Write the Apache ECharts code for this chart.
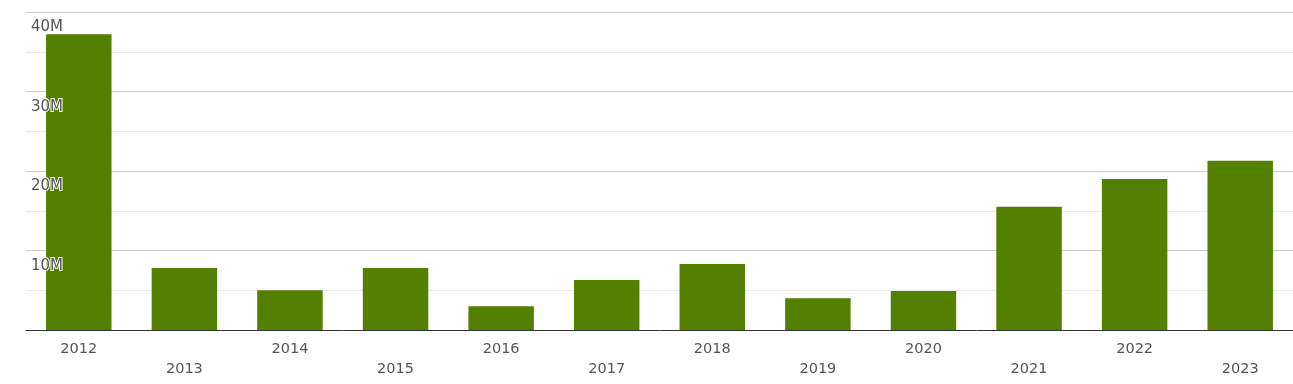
<!DOCTYPE html>
<html><head><meta charset="utf-8">
<script src="https://cdn.jsdelivr.net/npm/echarts@6/dist/echarts.min.js"></script>
<style>html,body{margin:0;padding:0;background:#fff}#c{width:1293px;height:384px}</style>
</head><body><div id="c"></div>
<script>
const categories = ['2012','2013','2014','2015','2016','2017','2018','2019','2020','2021','2022','2023'];
const values = [37.2, 7.8, 5.0, 7.8, 3.0, 6.3, 8.3, 4.0, 4.9, 15.5, 19.0, 21.3];
const yTicks = [0, 10, 20, 30, 40];
const font = 'DejaVu Sans';
const chart = echarts.init(document.getElementById('c'));
chart.setOption({
  animation: false,
  grid: {left: 26, right: 0, top: 12, bottom: 54},
  xAxis: {
    type: 'category', data: categories,
    axisLine: {lineStyle: {color: '#333', width: 1}},
    axisTick: {show: false},
    axisLabel: {
      interval: 0, margin: 9, color: '#555', fontFamily: font, fontSize: 14.5, lineHeight: 20,
      formatter: (v, i) => (i % 2 ? '\n' + v : v)
    }
  },
  yAxis: [{
    type: 'value', min: yTicks[0], max: yTicks[yTicks.length-1], interval: 10,
    axisLine: {show: false}, axisTick: {show: false}, axisLabel: {show: false},
    splitLine: {lineStyle: {color: '#ccc'}},
    minorTick: {show: false, splitNumber: 2},
    minorSplitLine: {show: true, lineStyle: {color: '#ebebeb'}}
  }, {
    type: 'value', min: yTicks[0], max: yTicks[yTicks.length-1], interval: 10, z: 10,
    position: 'left',
    axisLine: {show: false}, axisTick: {show: false}, splitLine: {show: false},
    axisLabel: {
      inside: true, margin: 5, showMinLabel: false, align: 'left', verticalAlign: 'top',
      padding: [8, 0, 0, 0],
      color: '#555', fontFamily: font, fontSize: 15,
      textBorderColor: '#fff', textBorderWidth: 2,
      formatter: v => v + 'M'
    }
  }],
  series: [{
    type: 'bar', data: values, barWidth: '62%',
    itemStyle: {color: '#548000'}
  }]
});
</script></body></html>
